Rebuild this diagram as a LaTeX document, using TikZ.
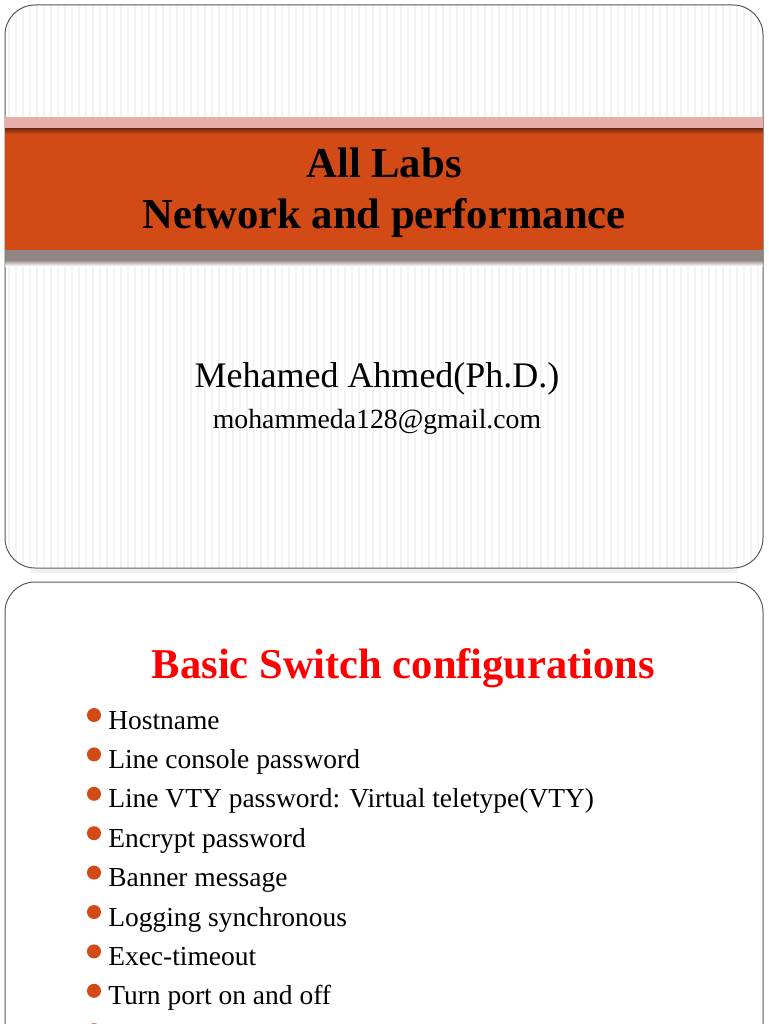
\documentclass[tikz,border=0pt]{standalone}
\usepackage{fontspec}
\setmainfont{Liberation Serif}
\usepackage{xcolor}
\definecolor{rust}{HTML}{D24A16}
\definecolor{bandtop}{HTML}{E6AFA8}
\definecolor{bandlow}{HTML}{8F8583}
\definecolor{rustdark}{HTML}{6E2A10}
\usetikzlibrary{shapes,arrows}
\tikzset{
  slidebox/.style={draw=black!65, line width=0.75pt, rounded corners=22.5pt},
  titletext/.style={font=\fontsize{32}{38.2}\selectfont\bfseries, align=center},
  itemtext/.style={font=\fontsize{20.6}{24}\selectfont, anchor=base west, inner sep=0pt},
  dotmark/.style={circle, fill=rust, inner sep=0pt, minimum size=10.5pt}
}
\begin{document}
\begin{tikzpicture}[x=0.75pt, y=-0.75pt]
\useasboundingbox (0,0) rectangle (768,1024);
\fill[white] (0,0) rectangle (768,1024);
% first slide
\begin{scope}
\clip[rounded corners=22.5pt] (5,5) rectangle (763,568);
\foreach \i in {0,...,53} {
  \draw[black!5, line width=2pt] ({9+14*\i},5) -- ({9+14*\i},568);
  \draw[black!4, line width=1.5pt] ({16+14*\i},5) -- ({16+14*\i},568);
}
\end{scope}
\fill[black!6] (30,569) rectangle (738,573);
\draw[slidebox] (5,5) rectangle (763,568);
% band
\fill[bandtop] (5,117) rectangle (763,128);
\shade[top color=rustdark, bottom color=rust] (5,128) rectangle (763,134);
\fill[rust] (5,134) rectangle (763,250);
\fill[bandlow] (5,250) rectangle (763,261);
\shade[top color=bandlow, bottom color=white, opacity=0.8] (5,261) rectangle (763,266);
\node[titletext] (title) at (384,193) {All Labs\\Network and performance};
\node[font=\fontsize{27}{32}\selectfont] (author) at (377,379) {Mehamed Ahmed(Ph.D.)};
\node[font=\fontsize{20.8}{25}\selectfont] (mail) at (377,422) {mohammeda128@gmail.com};
% second slide
\draw[slidebox, fill=white] (5,582) rectangle (763,1060);
\node[font=\fontsize{31.9}{38}\selectfont\bfseries, text=red] (head) at (403.5,668.5) {Basic Switch configurations};
\foreach \txt [count=\n from 0] in {Hostname,Line console password,Line VTY password: Virtual teletype(VTY),Encrypt password,Banner message,Logging synchronous,Exec-timeout,Turn port on and off} {
  \node[itemtext] (item\n) at (108,{729+39.4*\n}) {\txt};
  \node[dotmark] (dot\n) at (94,{715+39.4*\n}) {};
}
\node[dotmark] (dot8) at (94,{715+39.4*8}) {};
\end{tikzpicture}
\end{document}
